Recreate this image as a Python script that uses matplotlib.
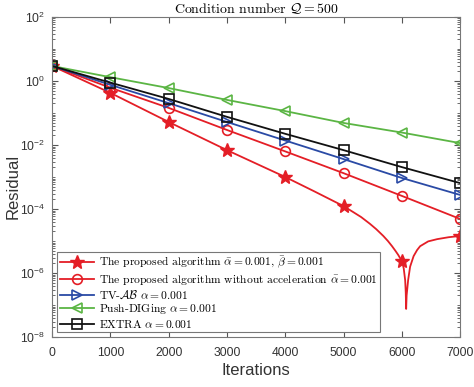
import numpy as np
import matplotlib
matplotlib.use('Agg')
import matplotlib.pyplot as plt
from matplotlib.ticker import LogLocator, FixedLocator, NullFormatter

plt.rcParams['font.family'] = ['Liberation Sans', 'DejaVu Sans']
plt.rcParams['mathtext.fontset'] = 'cm'

iters = [0, 1000, 2000, 3000, 4000, 5000, 6000, 7000]
log_circle = [0.47, -0.21, -0.84, -1.53, -2.20, -2.88, -3.59, -4.31]
log_tvab = [0.47, -0.12, -0.69, -1.28, -1.86, -2.44, -3.03, -3.56]
log_push = [0.47, 0.12, -0.22, -0.59, -0.94, -1.31, -1.61, -1.94]
log_extra = [0.47, -0.05, -0.56, -1.12, -1.65, -2.16, -2.69, -3.19]

# accelerated method: denser samples around the sign change near 6070
star_iters = [0, 1000, 2000, 3000, 4000, 4500, 5000, 5160, 5300, 5450, 5560,
              5680, 5760, 5830, 5890, 5935, 6000, 6030, 6055, 6065, 6072,
              6080, 6106, 6140, 6200, 6260, 6312, 6450, 6604, 6800, 7000]
log_star = [0.47, -0.37, -1.28, -2.16, -3.00, -3.45, -3.91, -4.09, -4.25,
            -4.46, -4.63, -4.84, -5.00, -5.16, -5.31, -5.43, -5.63, -5.85,
            -6.22, -6.60, -7.12, -6.70, -6.22, -5.80, -5.47, -5.28, -5.16,
            -5.01, -4.94, -4.88, -4.84]

labels = [
    r'The proposed algorithm $\bar{\alpha}=0.001$, $\bar{\beta}=0.001$',
    r'The proposed algorithm without acceleration $\bar{\alpha}=0.001$',
    r'TV-$\mathcal{AB}$ $\alpha=0.001$',
    r'Push-DIGing $\alpha=0.001$',
    r'EXTRA $\alpha=0.001$',
]

red = '#e41e26'
blue = '#2a4aa5'
green = '#5bb544'
black = '#111111'

fig = plt.figure(figsize=(4.74, 3.87), dpi=100)
ax = fig.add_axes([0.110, 0.129, 0.861, 0.827])

star_marks = [star_iters.index(i) for i in iters]
ax.plot(star_iters, 10 ** np.array(log_star), color=red, lw=1.3, marker='*',
        ms=10.5, markevery=star_marks, mfc=red, mec=red, label=labels[0])
ax.plot(iters, 10 ** np.array(log_circle), color=red, lw=1.3, marker='o',
        ms=7, mfc='none', mew=1.2, label=labels[1])
ax.plot(iters, 10 ** np.array(log_tvab), color=blue, lw=1.3, marker='>',
        ms=7.5, mfc='none', mew=1.2, label=labels[2])
ax.plot(iters, 10 ** np.array(log_push), color=green, lw=1.3, marker='<',
        ms=7.5, mfc='none', mew=1.2, label=labels[3])
ax.plot(iters, 10 ** np.array(log_extra), color=black, lw=1.3, marker='s',
        ms=6.5, mfc='none', mew=1.2, label=labels[4])

ax.set_yscale('log')
ax.set_xlim(0, 7000)
ax.set_ylim(1e-8, 1e2)
ax.set_xticks(range(0, 7001, 1000))
ax.yaxis.set_major_locator(FixedLocator([1e-8, 1e-6, 1e-4, 1e-2, 1e0, 1e2]))
ax.yaxis.set_minor_locator(LogLocator(base=10, subs=np.arange(1, 10), numticks=30))
ax.yaxis.set_minor_formatter(NullFormatter())

ax.tick_params(which='both', direction='in', top=True, right=True,
               colors='#555555', labelcolor='#333333', labelsize=8.7)
ax.tick_params(which='major', length=4)
ax.tick_params(which='minor', length=2)
ax.tick_params(axis='x', pad=7)
ax.tick_params(axis='y', pad=5)
for s in ax.spines.values():
    s.set_color('#777777')
    s.set_linewidth(0.8)

ax.set_xlabel('Iterations', fontsize=12, color='#333333')
ax.set_ylabel('Residual', fontsize=12, color='#333333')
ax.xaxis.set_label_coords(0.5, -0.081)
ax.yaxis.set_label_coords(-0.078, 0.47)
ax.set_title(r'Condition number $\mathcal{Q}=500$', fontsize=10,
             family='cmr10', pad=3)

leg = ax.legend(loc='lower left', prop={'family': 'cmr10', 'size': 8.3},
                handlelength=3.0, fancybox=False, framealpha=1,
                edgecolor='#777777', borderpad=0.25, labelspacing=0.12,
                handletextpad=0.4, borderaxespad=0.4)
leg.get_frame().set_linewidth(0.8)

fig.savefig('out.png', dpi=100)
